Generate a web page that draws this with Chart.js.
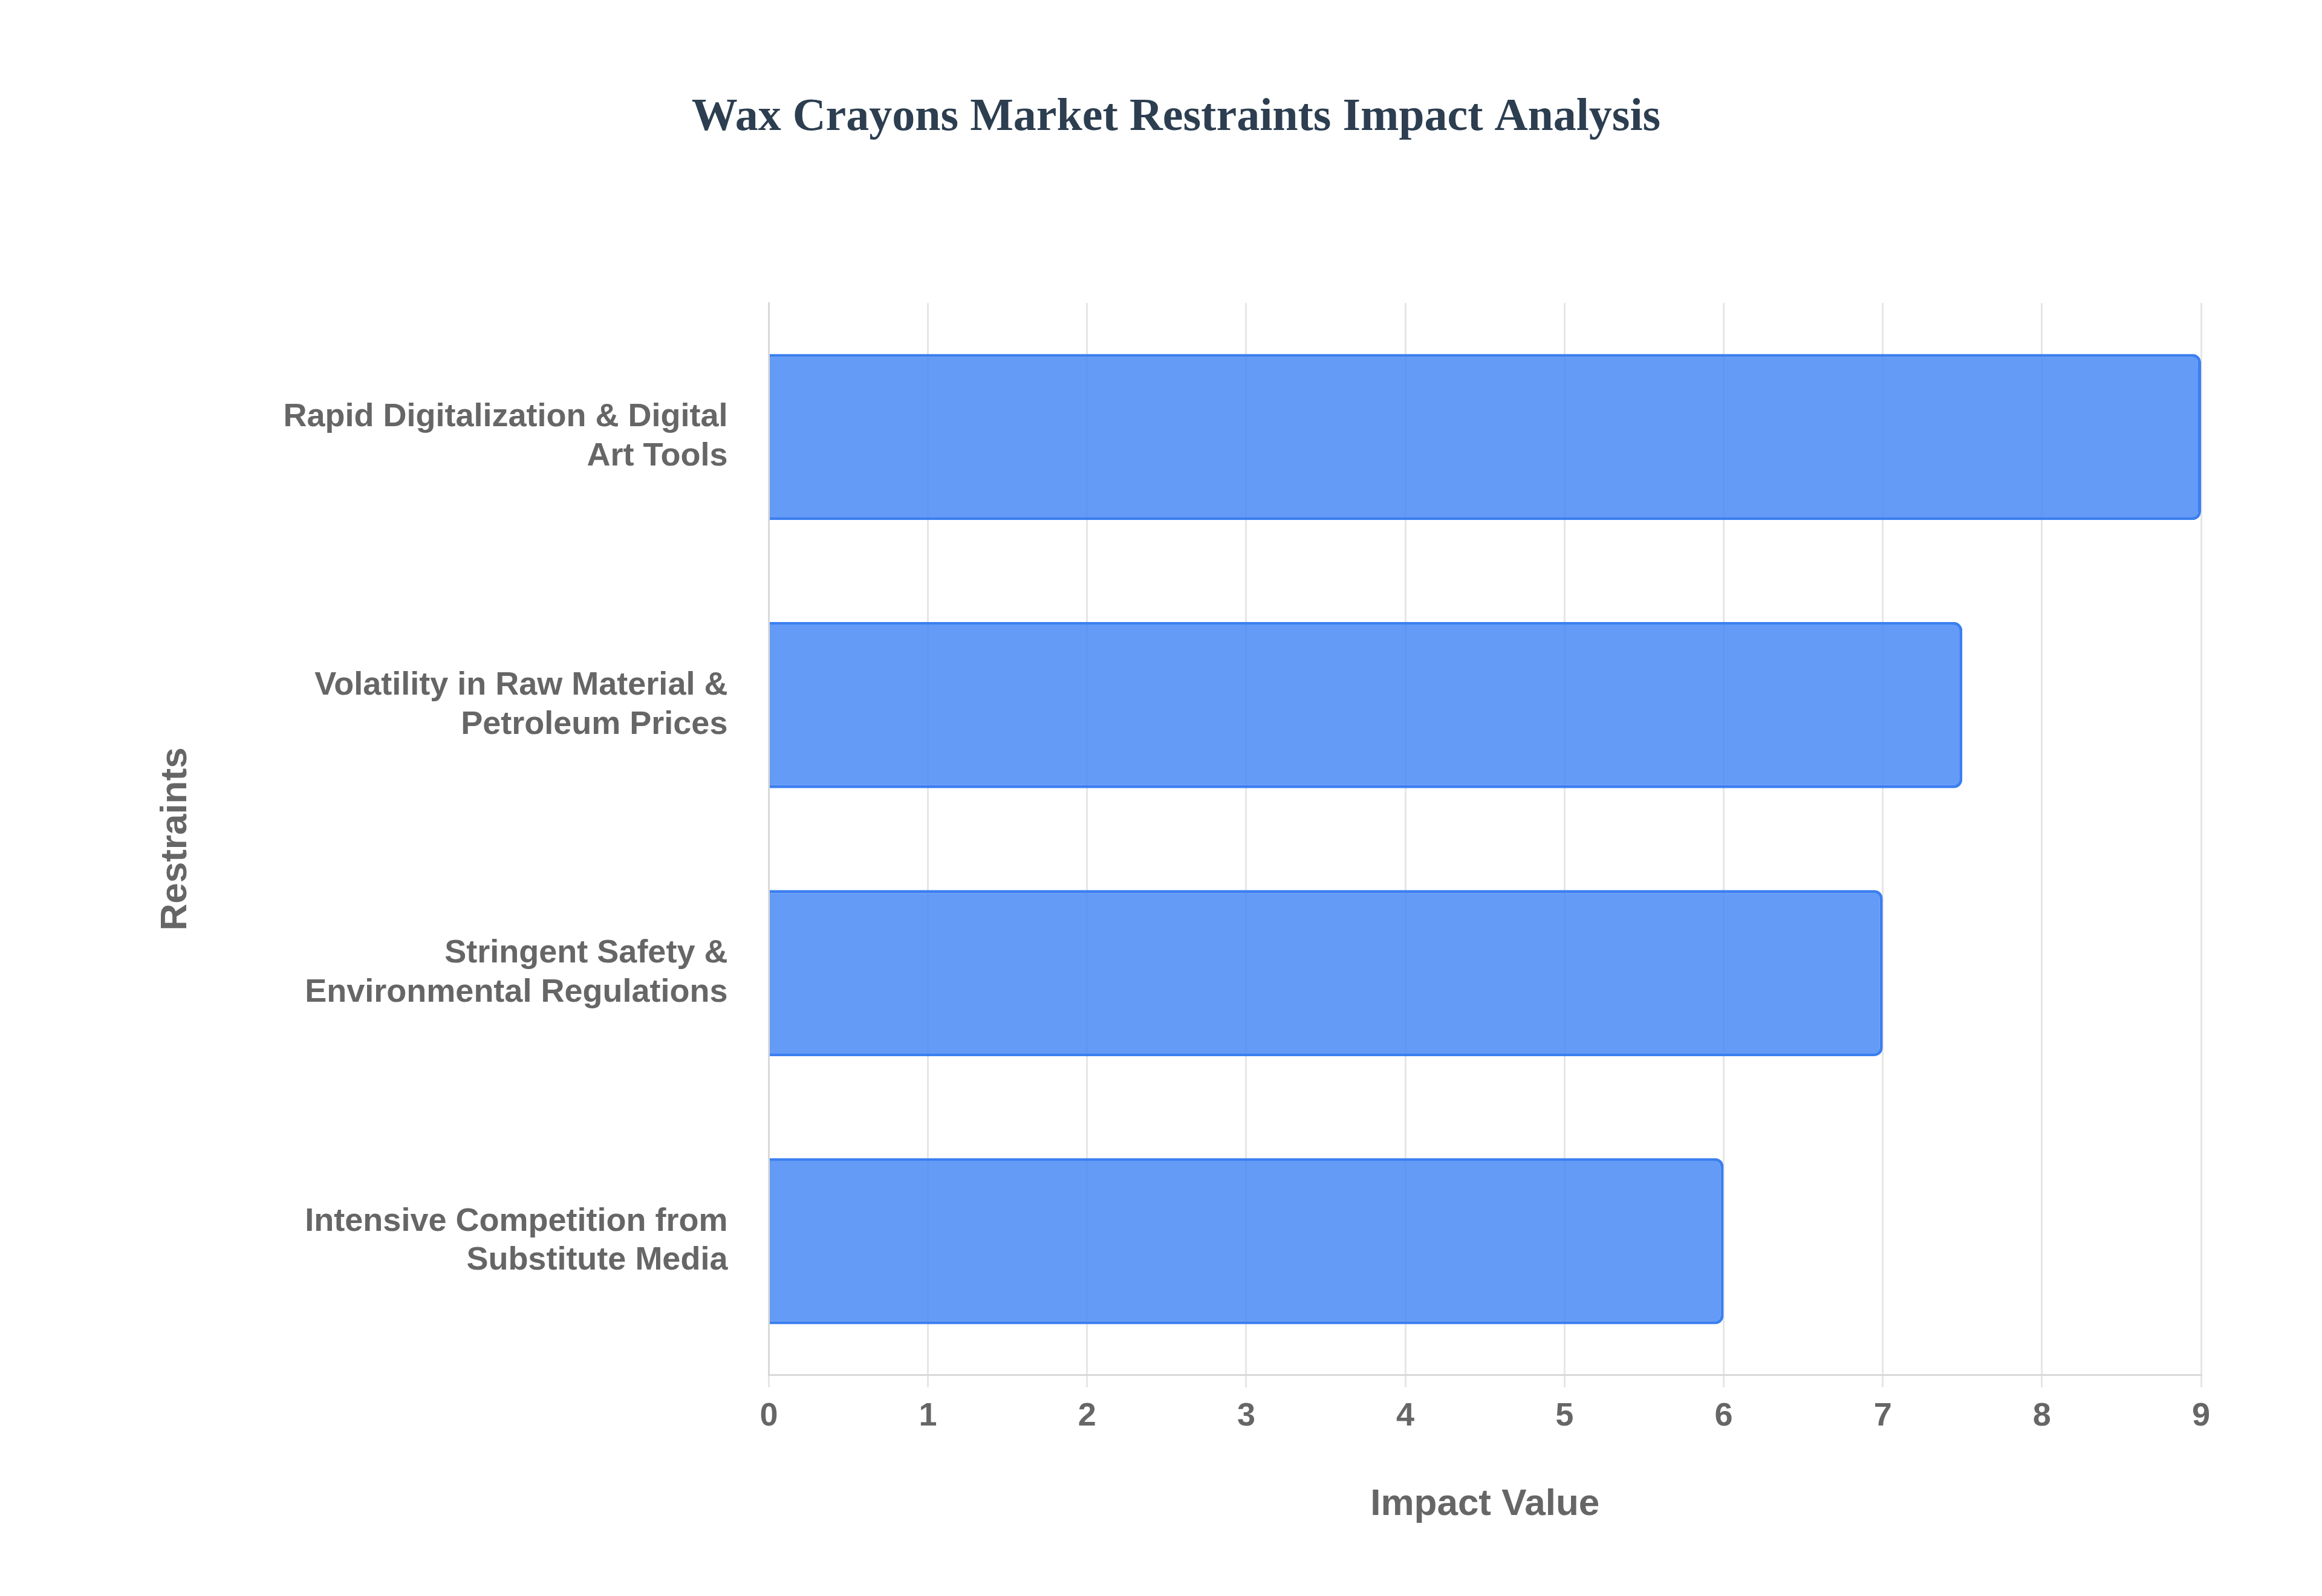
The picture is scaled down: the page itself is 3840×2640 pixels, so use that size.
<!DOCTYPE html>
<html>
<head>
<meta charset="utf-8">
<script src="https://cdn.jsdelivr.net/npm/chart.js@4"></script>
<style>
  html, body { margin: 0; padding: 0; background: #fff; }
  #wrap { width: 3840px; height: 2640px; }
</style>
</head>
<body>
<div id="wrap"><canvas id="chart" width="3840" height="2640"></canvas></div>
<script>
// Wax crayons market restraints, impact value per restraint
const restraints = [
  ['Rapid Digitalization & Digital', 'Art Tools'],
  ['Volatility in Raw Material &', 'Petroleum Prices'],
  ['Stringent Safety &', 'Environmental Regulations'],
  ['Intensive Competition from', 'Substitute Media']
];
const impactValues = [9, 7.5, 7, 6];
const xTicks = [0, 1, 2, 3, 4, 5, 6, 7, 8, 9];

const ctx = document.getElementById('chart').getContext('2d');
new Chart(ctx, {
  type: 'bar',
  data: {
    labels: restraints,
    datasets: [{
      label: 'Impact Value',
      data: impactValues,
      backgroundColor: 'rgba(66,133,244,0.82)',
      borderColor: '#3b7ff0',
      borderWidth: 5,
      borderRadius: 14,
      borderSkipped: 'start',
      categoryPercentage: 0.62,
      barPercentage: 1
    }]
  },
  options: {
    indexAxis: 'y',
    responsive: false,
    animation: false,
    devicePixelRatio: 1,
    layout: { padding: { left: 250, right: 200, top: 150, bottom: 110 } },
    plugins: {
      legend: { display: false },
      tooltip: { enabled: false },
      title: {
        display: true,
        text: 'Wax Crayons Market Restraints Impact Analysis',
        color: '#2c3e50',
        font: { family: 'Liberation Serif', size: 76, weight: 'bold' },
        padding: { top: 0, bottom: 260 }
      }
    },
    scales: {
      x: {
        min: 0,
        max: 9,
        afterBuildTicks: (axis) => { axis.ticks = xTicks.map(v => ({ value: v })); },
        grid: { color: '#e6e6e6', lineWidth: 3, drawTicks: true, tickLength: 20 },
        border: { color: '#d9d9d9', width: 3 },
        ticks: { color: '#666', font: { family: 'Liberation Sans', size: 54, weight: 'bold' }, padding: 16 },
        title: {
          display: true,
          text: 'Impact Value',
          color: '#666',
          font: { family: 'Liberation Sans', size: 62, weight: 'bold' },
          padding: { top: 60 }
        }
      },
      y: {
        grid: { display: false },
        border: { color: '#d9d9d9', width: 3 },
        ticks: { color: '#666', font: { family: 'Liberation Sans', size: 54, weight: 'bold' }, padding: 60 },
        title: {
          display: true,
          text: 'Restraints',
          color: '#666',
          font: { family: 'Liberation Sans', size: 62, weight: 'bold' },
          padding: { bottom: 80 }
        }
      }
    }
  }
});
</script>
</body>
</html>
